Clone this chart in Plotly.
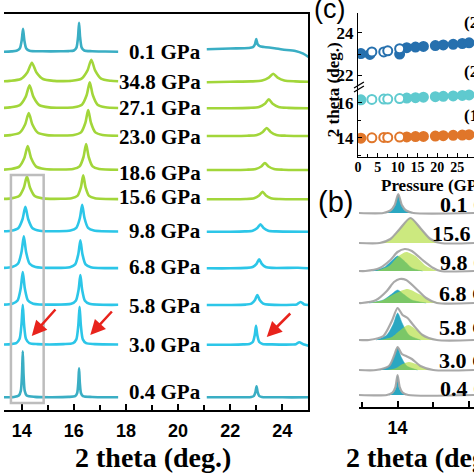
import plotly.graph_objects as go

W = H = 474
def fx(px): return px / W
def fy(py): return 1 - py / H

# ---------------- Panel (a): XRD patterns (intensity offsets, arbitrary units) ----------------
labels_a = ["0.1 GPa", "34.8 GPa", "27.1 GPa", "23.0 GPa", "18.6 GPa", "15.6 GPa",
            "9.8 GPa", "6.8 GPa", "5.8 GPa", "3.0 GPa", "0.4 GPa"]
baseline_a = [358.3, 328.3, 301.7, 274, 240, 210.7, 178.3, 141.7, 105, 65.3, 12.7]

x01_L = [13.32, 13.6, 13.80, 13.925, 14.00, 14.05, 14.10, 14.175, 14.30, 14.8, 15.5, 15.8, 16.00, 16.10, 16.16, 16.20, 16.24, 16.30, 16.40, 16.7, 17.2, 17.7]
y01_L = [0, 0.3, 0.9, 3.2, 11.5, 23, 11.5, 3.2, 0.9, 0.4, 0.4, 0.6, 1.2, 4.1, 14.5, 29, 14.5, 4.1, 1.2, 0.5, 0.2, 0]
x01_R = [21.1, 22.0, 22.7, 22.87, 22.95, 23.0, 23.05, 23.13, 23.3, 23.7, 24.0, 24.5, 24.8, 25.0]
y01_R = [2.4, 3.2, 3.7, 4.5, 7.5, 12.7, 7.5, 5.5, 4.7, 3.5, 2.2, 0.7, -2, -5.3]

x348_L = [13.32, 13.54, 13.965, 14.22, 14.39, 14.56, 14.815, 15.24, 15.6, 15.92, 16.295, 16.52, 16.67, 16.82, 17.045, 17.42, 17.7]
y348_L = [0.4, 0.8, 2.7, 9.5, 19, 9.5, 2.7, 0.8, 0.6, 0.9, 3.1, 11, 22, 11, 3.1, 0.9, 0.4]
x348_R = [21.1, 22.0, 22.80, 23.225, 23.48, 23.65, 23.82, 24.075, 24.5, 25.0]
y348_R = [-0.5, 0, 0.3, 1.1, 4, 8, 4, 1.1, 0.3, 0]

x271_L = [13.32, 13.55, 13.925, 14.15, 14.30, 14.45, 14.675, 15.05, 15.6, 16.01, 16.31, 16.49, 16.61, 16.73, 16.91, 17.21, 17.7]
y271_L = [0.4, 0.9, 3.2, 11.5, 23, 11.5, 3.2, 0.9, 0.5, 1.0, 3.6, 13, 26, 13, 3.6, 1.0, 0.3]
x271_R = [21.1, 22.0, 22.73, 23.105, 23.33, 23.48, 23.63, 23.855, 24.23, 25.0]
y271_R = [0, 0, 0.4, 1.3, 4.5, 9, 4.5, 1.3, 0.4, 0]

x230_L = [13.32, 13.57, 13.92, 14.13, 14.27, 14.41, 14.62, 14.97, 15.6, 16.0, 16.275, 16.44, 16.55, 16.66, 16.825, 17.1, 17.7]
y230_L = [0.4, 0.9, 3.2, 11.5, 23, 11.5, 3.2, 0.9, 0.5, 1.0, 3.6, 13, 26, 13, 3.6, 1.0, 0.3]
x230_R = [21.1, 22.0, 22.65, 23.025, 23.25, 23.40, 23.55, 23.775, 24.15, 25.0]
y230_R = [0, 0, 0.3, 1.1, 4, 8, 4, 1.1, 0.3, 0]

x186_L = [13.32, 13.58, 13.905, 14.10, 14.23, 14.36, 14.555, 14.88, 15.5, 15.97, 16.22, 16.37, 16.47, 16.57, 16.72, 16.97, 17.7]
y186_L = [0.4, 1.0, 3.4, 12, 24, 12, 3.4, 1.0, 0.5, 1.0, 3.6, 13, 26, 13, 3.6, 1.0, 0.3]
x186_R = [21.1, 22.0, 22.63, 22.98, 23.19, 23.33, 23.47, 23.68, 24.03, 25.0]
y186_R = [0, 0, 0.3, 1.0, 3.5, 7, 3.5, 1.0, 0.3, 0]

x156_L = [13.32, 13.6, 13.9, 14.08, 14.2, 14.32, 14.5, 14.8, 15.5, 15.91, 16.135, 16.27, 16.36, 16.45, 16.585, 16.81, 17.7]
y156_L = [0.4, 0.9, 3.2, 11.5, 23, 11.5, 3.2, 0.9, 0.5, 1.0, 3.4, 12, 24, 12, 3.4, 1.0, 0.2]
x156_R = [21.1, 22.0, 22.59, 22.915, 23.11, 23.24, 23.37, 23.565, 23.89, 25.0]
y156_R = [0, 0, 0.3, 1.1, 3.8, 7.6, 3.8, 1.1, 0.3, 0]

x98_L = [13.32, 13.59, 13.865, 14.03, 14.14, 14.25, 14.415, 14.69, 15.4, 15.87, 16.095, 16.23, 16.32, 16.41, 16.545, 16.77, 17.7]
y98_L = [0.4, 1.0, 3.5, 12.5, 25, 12.5, 3.5, 1.0, 0.5, 1.1, 3.8, 13.5, 27, 13.5, 3.8, 1.1, 0.2]
x98_R = [21.1, 22.0, 22.56, 22.86, 23.04, 23.16, 23.28, 23.46, 23.76, 25.0]
y98_R = [0, 0, 0.3, 1.0, 3.7, 7.4, 3.7, 1.0, 0.3, 0]

x68_L = [13.32, 13.63, 13.855, 13.99, 14.08, 14.17, 14.305, 14.53, 15.3, 15.85, 16.05, 16.17, 16.25, 16.33, 16.45, 16.65, 17.7]
y68_L = [0.4, 1.3, 4.5, 16, 32, 16, 4.5, 1.3, 0.4, 1.1, 3.9, 14, 28, 14, 3.9, 1.1, 0.2]
x68_R = [21.1, 22.0, 22.61, 22.86, 23.01, 23.11, 23.21, 23.36, 23.61, 24.6, 25.0]
y68_R = [0, 0, 0.4, 1.3, 4.5, 9, 4.5, 1.3, 0.4, 0.5, 0]

x58_L = [13.32, 13.64, 13.84, 13.96, 14.04, 14.12, 14.24, 14.44, 15.2, 15.9, 16.075, 16.18, 16.25, 16.32, 16.425, 16.6, 17.7]
y58_L = [0.4, 1.3, 4.6, 16.5, 33, 16.5, 4.6, 1.3, 0.4, 1.2, 4.2, 15, 30, 15, 4.2, 1.2, 0.2]
x58_R = [21.1, 22.0, 22.59, 22.815, 22.95, 23.04, 23.13, 23.265, 23.49, 24.4, 24.55, 24.7, 24.85, 25.0]
y58_R = [0, 0, 0.4, 1.4, 5, 10, 5, 1.4, 0.4, 0.2, 0.5, 3, 0.5, 0]

x30_L = [13.32, 13.6, 13.79, 13.915, 13.99, 14.04, 14.09, 14.165, 14.29, 14.6, 15.6, 15.97, 16.095, 16.17, 16.22, 16.27, 16.345, 16.47, 16.8, 17.7]
y30_L = [0.2, 0.6, 1.6, 5.6, 20, 40, 20, 5.6, 1.6, 0.6, 0.6, 1.5, 5.3, 19, 38, 19, 5.3, 1.5, 0.6, 0.2]
x30_R = [21.1, 22.0, 22.5, 22.74, 22.865, 22.94, 22.99, 23.04, 23.115, 23.24, 23.6, 24.4, 24.52, 24.65, 24.8, 25.0]
y30_R = [0, 0, 0.3, 0.8, 2.7, 9.5, 19, 9.5, 2.7, 0.8, 0.3, 0.2, 0.5, 2.5, 0.5, -1]

x04_L = [13.32, 13.7, 13.89, 13.965, 14.01, 14.04, 14.07, 14.115, 14.19, 14.5, 15.8, 16.05, 16.125, 16.17, 16.2, 16.23, 16.275, 16.35, 16.7, 17.7]
y04_L = [0, 0.3, 1.8, 6.4, 23, 46, 23, 6.4, 1.8, 0.4, 0.4, 1.2, 4.1, 14.5, 29, 14.5, 4.1, 1.2, 0.3, 0]
x04_R = [21.1, 22.0, 22.81, 22.91, 22.97, 23.01, 23.05, 23.11, 23.21, 24.0, 25.0]
y04_R = [0, 0, 0.4, 1.5, 5.5, 11, 5.5, 1.5, 0.4, 0, 0]

segments_a = [
    (x01_L, y01_L, x01_R, y01_R), (x348_L, y348_L, x348_R, y348_R),
    (x271_L, y271_L, x271_R, y271_R), (x230_L, y230_L, x230_R, y230_R),
    (x186_L, y186_L, x186_R, y186_R), (x156_L, y156_L, x156_R, y156_R),
    (x98_L, y98_L, x98_R, y98_R), (x68_L, y68_L, x68_R, y68_R),
    (x58_L, y58_L, x58_R, y58_R), (x30_L, y30_L, x30_R, y30_R),
    (x04_L, y04_L, x04_R, y04_R),
]

# ---------------- Panel (c): peak positions vs pressure ----------------
p_filled = [0.75, 12.3, 14.5, 16.5, 19.5, 21.5, 24.0, 26.3, 28.0]
p_open = [3.5, 6.5, 7.5, 10.5]
t14_filled = [13.98, 14.05, 14.07, 14.08, 14.10, 14.12, 14.14, 14.16, 14.18]
t14_open = [14.00, 14.02, 14.02, 14.04]
t16_filled = [16.18, 16.28, 16.30, 16.33, 16.36, 16.38, 16.40, 16.43, 16.46]
t16_open = [16.20, 16.22, 16.22, 16.25]
t23_filled = [23.02, 23.30, 23.33, 23.36, 23.40, 23.43, 23.46, 23.50, 23.53]
t23_open = [23.10, 23.10, 23.15, 23.25]
p_blue_extra = [3.0, 10.5]
t23_extra = [22.98, 23.0]

# ---------------- Panel (b): fitted (14) peak ----------------
labels_b = ["0.1 GPa", "15.6 GPa", "9.8 GPa", "6.8 GPa", "5.8 GPa", "3.0 GPa", "0.4 GPa"]
baseline_b = [194, 164, 136, 104, 67, 37, 12]
env_x = [
    [13.46, 13.8, 13.9, 13.96, 14.01, 14.06, 14.12, 14.22, 15.07],
    [13.46, 13.75, 13.9, 14.03, 14.18, 14.33, 14.46, 14.6, 15.07],
    [13.46, 13.55, 13.75, 13.9, 14.0, 14.1, 14.2, 14.35, 14.5, 14.6, 15.07],
    [13.46, 13.5, 13.7, 13.85, 13.95, 14.03, 14.12, 14.25, 14.4, 14.55, 15.07],
    [13.46, 13.6, 13.8, 13.92, 14.0, 14.07, 14.14, 14.22, 14.35, 14.55, 15.07],
    [13.46, 13.7, 13.88, 13.95, 14.0, 14.06, 14.12, 14.2, 14.32, 14.5, 15.07],
    [13.46, 13.85, 13.93, 13.97, 14.0, 14.03, 14.07, 14.15, 15.07],
]
env_y = [
    [0, 0, 2.5, 8, 19, 8, 2.5, 0, 0],
    [0, 0, 4, 14, 25, 14, 4, 0, 0],
    [0, 0, 3, 11, 19, 22, 20, 11, 3, 0, 0],
    [0, 0, 3, 12, 21, 24, 23, 15, 5, 0, 0],
    [0, 0, 4, 19, 32, 25, 22, 15, 5, 0, 0],
    [0, 0, 4, 14, 23, 16, 14, 11, 4, 0, 0],
    [0, 0, 2.5, 8, 20, 8, 2.5, 0, 0],
]
teal_x = [
    [13.83, 13.92, 13.97, 14.01, 14.05, 14.10, 14.2],
    None,
    [13.65, 13.82, 13.93, 14.0, 14.08, 14.2, 14.35],
    [13.6, 13.8, 13.92, 14.0, 14.08, 14.2, 14.4],
    [13.7, 13.85, 13.94, 14.0, 14.07, 14.16, 14.32],
    [13.75, 13.88, 13.95, 14.0, 14.05, 14.13, 14.28],
    [13.88, 13.94, 13.98, 14.0, 14.02, 14.06, 14.12],
]
teal_y = [
    [0, 2.5, 8, 18, 8, 2.5, 0],
    None,
    [0, 4, 11, 15, 11, 3, 0],
    [0, 3, 9, 13, 9, 3, 0],
    [0, 5, 16, 27, 16, 5, 0],
    [0, 4, 13, 22, 13, 4, 0],
    [0, 2, 7, 19, 7, 2, 0],
]
green_x = [
    None,
    [13.75, 13.9, 14.03, 14.18, 14.33, 14.46, 14.6],
    [13.7, 13.88, 14.0, 14.12, 14.25, 14.4, 14.56],
    [13.6, 13.8, 13.98, 14.14, 14.3, 14.45, 14.6],
    [13.75, 13.92, 14.04, 14.15, 14.27, 14.4, 14.55],
    [13.85, 13.98, 14.07, 14.16, 14.26, 14.38, 14.5],
    None,
]
green_y = [
    None,
    [0, 4, 14, 25, 14, 4, 0],
    [0, 5, 14, 19, 15, 5, 0],
    [0, 3, 10, 14, 9, 3, 0],
    [0, 3, 10, 15, 10, 3, 0],
    [0, 2, 6, 8, 6, 2, 0],
    None,
]

# ---------------- styles ----------------
TEAL = "#3AAEC4"
GREEN = "#A2D63A"
CYAN = "#2CC6E8"
colors_a = [TEAL, GREEN, GREEN, GREEN, GREEN, GREEN, CYAN, CYAN, CYAN, CYAN, TEAL]
label_py_a = [52, 82, 108, 137, 173, 197, 231, 267, 306, 345, 392]
label_py_b = [205, 233, 262, 293, 327, 360, 388]
label_px_b = [438, 430, 438, 437, 437, 437, 438]

SERIF = "Liberation Serif"
SANS = "Liberation Sans"

fig = go.Figure()

spl = dict(shape="spline", smoothing=0.7)
for (xl, yl, xr, yr), base, col in zip(segments_a, baseline_a, colors_a):
    for xs, ys in ((xl, yl), (xr, yr)):
        fig.add_trace(go.Scatter(x=xs, y=[base + v for v in ys], mode="lines",
                                 line=dict(color=col, width=2.6, **spl),
                                 xaxis="x", yaxis="y", showlegend=False, hoverinfo="skip"))

# panel (c)
ORANGE = "#E0762A"
LTEAL = "#5FCACF"
BLUE = "#2670AE"
def mk(color, open_):
    return dict(size=9, color="white" if open_ else color, line=dict(color=color, width=2))
fig.add_trace(go.Scatter(x=p_filled, y=t14_filled, mode="markers", marker=mk(ORANGE, False), xaxis="x3", yaxis="y3", showlegend=False))
fig.add_trace(go.Scatter(x=p_open, y=t14_open, mode="markers", marker=mk(ORANGE, True), xaxis="x3", yaxis="y3", showlegend=False))
fig.add_trace(go.Scatter(x=p_filled, y=t16_filled, mode="markers", marker=mk(LTEAL, False), xaxis="x3", yaxis="y3", showlegend=False))
fig.add_trace(go.Scatter(x=p_open, y=t16_open, mode="markers", marker=mk(LTEAL, True), xaxis="x3", yaxis="y3", showlegend=False))
fig.add_trace(go.Scatter(x=p_filled + p_blue_extra, y=t23_filled + t23_extra, mode="markers", marker=mk(BLUE, False), xaxis="x3", yaxis="y2", showlegend=False))
fig.add_trace(go.Scatter(x=p_open, y=t23_open, mode="markers", marker=mk(BLUE, True), xaxis="x3", yaxis="y2", showlegend=False))

# panel (b)
TEALF = "#2AA7C1"
GREENF = "rgba(172,220,48,0.62)"
GRAY = "rgba(160,160,160,0.9)"
for i, base in enumerate(baseline_b):
    if teal_x[i] is not None:
        fig.add_trace(go.Scatter(x=teal_x[i], y=[base + v for v in teal_y[i]], mode="lines", fill="toself",
                                 fillcolor=TEALF, line=dict(color=TEALF, width=0.5, **spl),
                                 xaxis="x4", yaxis="y4", showlegend=False, hoverinfo="skip"))
    if green_x[i] is not None:
        fig.add_trace(go.Scatter(x=green_x[i], y=[base + v for v in green_y[i]], mode="lines", fill="toself",
                                 fillcolor=GREENF, line=dict(color="rgba(0,0,0,0)", width=0.5, **spl),
                                 xaxis="x4", yaxis="y4", showlegend=False, hoverinfo="skip"))
    fig.add_trace(go.Scatter(x=env_x[i], y=[base + v for v in env_y[i]], mode="lines",
                             line=dict(color=GRAY, width=2.2, **spl),
                             xaxis="x4", yaxis="y4", showlegend=False, hoverinfo="skip"))

annotations = []
for lab, py, in zip(labels_a, label_py_a):
    annotations.append(dict(text=lab, x=fx(201), y=fy(py), xref="paper", yref="paper",
                            xanchor="right", yanchor="middle", showarrow=False,
                            font=dict(family=SERIF, size=21, color="black", weight="bold")))
for lab, py, px in zip(labels_b, label_py_b, label_px_b):
    annotations.append(dict(text=lab, x=fx(px), y=fy(py), xref="paper", yref="paper",
                            xanchor="left", yanchor="middle", showarrow=False,
                            font=dict(family=SERIF, size=22, color="black", weight="bold")))
# axis titles
annotations.append(dict(text="2 theta (deg.)", x=fx(150), y=fy(457), xref="paper", yref="paper",
                        xanchor="center", yanchor="middle", showarrow=False,
                        font=dict(family=SERIF, size=28, color="black", weight="bold")))
annotations.append(dict(text="2 theta (deg.)", x=fx(343), y=fy(457), xref="paper", yref="paper",
                        xanchor="left", yanchor="middle", showarrow=False,
                        font=dict(family=SERIF, size=28, color="black", weight="bold")))
annotations.append(dict(text="Pressure (GPa)", x=fx(378), y=fy(185), xref="paper", yref="paper",
                        xanchor="left", yanchor="middle", showarrow=False,
                        font=dict(family=SERIF, size=17, color="black", weight="bold")))
annotations.append(dict(text="2 theta (deg.)", x=fx(332), y=fy(90), xref="paper", yref="paper",
                        xanchor="center", yanchor="middle", showarrow=False, textangle=-90,
                        font=dict(family=SERIF, size=17, color="black", weight="bold")))
for txt, py in (("(220)", 23), ("(200)", 71), ("(110)", 115)):
    annotations.append(dict(text=txt, x=fx(462), y=fy(py), xref="paper", yref="paper",
                            xanchor="left", yanchor="middle", showarrow=False,
                            font=dict(family=SERIF, size=17, color="black", weight="bold")))
annotations.append(dict(text="(c)", x=fx(328), y=fy(9), xref="paper", yref="paper",
                        xanchor="center", yanchor="middle", showarrow=False,
                        font=dict(family=SANS, size=27, color="black")))
annotations.append(dict(text="(b)", x=fx(334), y=fy(202), xref="paper", yref="paper",
                        xanchor="center", yanchor="middle", showarrow=False,
                        font=dict(family=SANS, size=29, color="black")))
# red arrows
for hx, hy, ax, ay in ((28, 336, 25, -28), (87, 335, 23, -25), (265, 337, 25, -25)):
    annotations.append(dict(text="", x=fx(hx), y=fy(hy), xref="paper", yref="paper",
                            ax=ax, ay=ay, showarrow=True, arrowhead=2, arrowsize=1.2,
                            arrowwidth=2.5, arrowcolor="#E8231C"))

shapes = [
    dict(type="rect", xref="paper", yref="paper", x0=fx(7), x1=fx(40), y0=fy(403), y1=fy(175),
         line=dict(color="#BDBDBD", width=2.5)),
    dict(type="line", xref="paper", yref="paper", x0=fx(353), y0=fy(88), x1=fx(363), y1=fy(82),
         line=dict(color="black", width=1.3)),
    dict(type="line", xref="paper", yref="paper", x0=fx(353), y0=fy(92), x1=fx(363), y1=fy(86),
         line=dict(color="black", width=1.3)),
]

axis_common = dict(showgrid=False, zeroline=False, linecolor="black", color="black")

fig.update_layout(
    width=W, height=H, autosize=False,
    margin=dict(l=0, r=0, t=0, b=0, pad=0),
    paper_bgcolor="white", plot_bgcolor="rgba(0,0,0,0)",
    annotations=annotations, shapes=shapes,
    xaxis=dict(domain=[0, fx(307)], range=[13.32, 25.0], anchor="y", showline=True, mirror=True,
               linewidth=1.5, ticks="inside", ticklen=6, tickwidth=1.5, tick0=14, dtick=2,
               minor=dict(ticks="inside", ticklen=5, tickwidth=1.5, dtick=1, showgrid=False),
               tickfont=dict(family=SANS, size=18, color="black", weight="bold"),
               ticklabelstandoff=4, **axis_common),
    yaxis=dict(domain=[fy(410), fy(14)], range=[0, 396], anchor="x", side="right", showline=True,
               linewidth=1.5, showticklabels=False, ticks="", **axis_common),
    xaxis3=dict(domain=[fx(357), 1], range=[0, 29.25], anchor="y3", showline=True, linewidth=1.3,
                ticks="inside", ticklen=4, tickwidth=1.2, tick0=0, dtick=5,
                minor=dict(ticks="inside", ticklen=3, tickwidth=1, dtick=2.5, showgrid=False),
                tickfont=dict(family=SERIF, size=14, color="black", weight="bold"),
                ticklabelstandoff=-3, **axis_common),
    yaxis2=dict(domain=[fy(86), fy(13)], range=[21.48, 24.95], anchor="x3", showline=True, linewidth=1.3,
                ticks="inside", ticklen=4, tickwidth=1.2, tick0=22, dtick=2,
                minor=dict(ticks="inside", ticklen=3, tickwidth=1, dtick=1, showgrid=False),
                tickfont=dict(family=SERIF, size=17, color="black", weight="bold"),
                ticklabelstandoff=0, **axis_common),
    yaxis3=dict(domain=[fy(157), fy(86)], range=[12.9, 16.97], anchor="x3", showline=True, linewidth=1.3,
                ticks="inside", ticklen=4, tickwidth=1.2, tick0=14, dtick=2,
                minor=dict(ticks="inside", ticklen=3, tickwidth=1, dtick=1, showgrid=False),
                tickfont=dict(family=SERIF, size=17, color="black", weight="bold"),
                ticklabelstandoff=0, **axis_common),
    xaxis4=dict(domain=[fx(358), 1], range=[13.46, 15.07], anchor="y4", showline=True, linewidth=1.5,
                ticks="inside", ticklen=6, tickwidth=1.5, tick0=14, dtick=1,
                minor=dict(ticks="inside", ticklen=5, tickwidth=1.5, dtick=0.5, showgrid=False),
                tickfont=dict(family=SANS, size=18, color="black", weight="bold"),
                ticklabelstandoff=4, **axis_common),
    yaxis4=dict(domain=[fy(407), fy(185)], range=[0, 222], anchor="x4", visible=False),
)

fig.write_html("out.html")
